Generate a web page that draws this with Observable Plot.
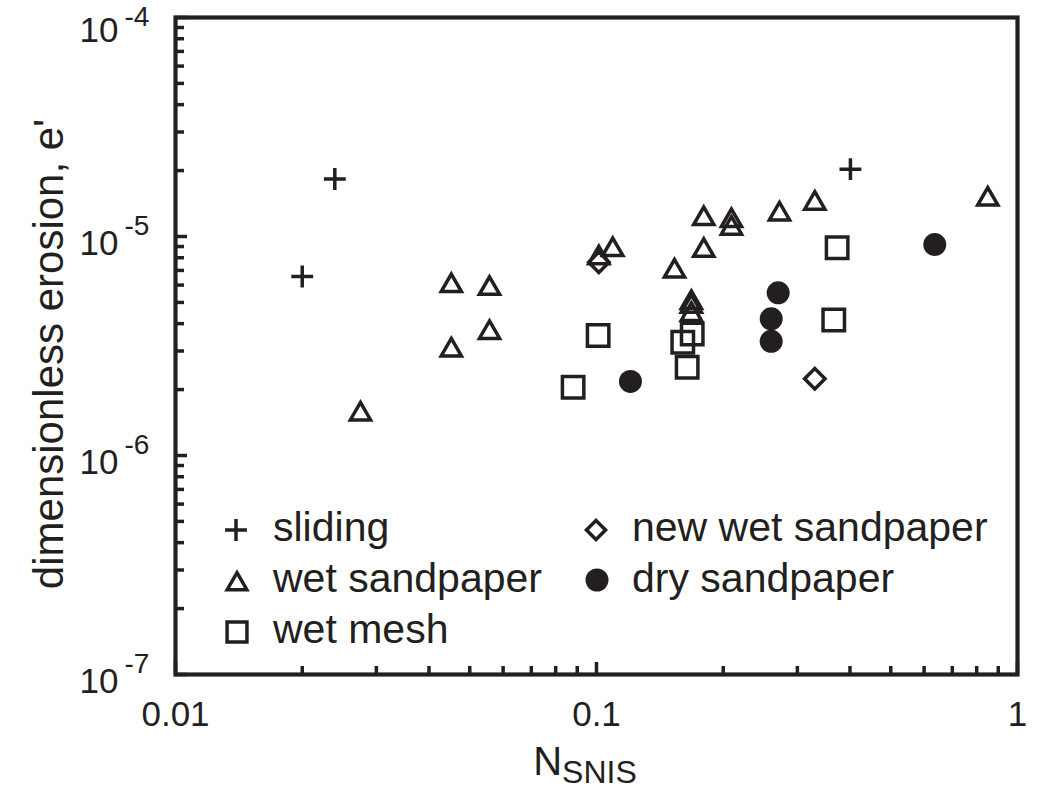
<!DOCTYPE html>
<html><head><meta charset="utf-8">
<script src="https://cdn.jsdelivr.net/npm/d3@7"></script>
<script src="https://cdn.jsdelivr.net/npm/@observablehq/plot@0.6"></script>
<style>
html,body{margin:0;padding:0;background:#fff;}
#chart svg{display:block;}
</style>
</head><body><div id="chart"></div>
<script>
// ---- data ----
const slidingX = [0.0200, 0.0239, 0.401];
const slidingY = [6.57e-6, 1.83e-5, 2.03e-5];

const wetSandX = [0.0275, 0.0452, 0.0557, 0.0452, 0.0557, 0.1013, 0.1093, 0.1798, 0.2092, 0.2092, 0.272, 0.330, 0.850, 0.1798, 0.1532, 0.168, 0.168, 0.168];
const wetSandY = [1.545e-6, 5.96e-6, 5.79e-6, 3.03e-6, 3.64e-6, 7.98e-6, 8.70e-6, 1.205e-5, 1.18e-5, 1.09e-5, 1.265e-5, 1.417e-5, 1.48e-5, 8.63e-6, 6.94e-6, 4.99e-6, 4.79e-6, 4.40e-6];

const wetMeshX = [0.0880, 0.1009, 0.1688, 0.1603, 0.1642, 0.3729, 0.3661];
const wetMeshY = [2.05e-6, 3.53e-6, 3.59e-6, 3.29e-6, 2.53e-6, 8.88e-6, 4.16e-6];

const newWetX = [0.1013, 0.330];
const newWetY = [7.63e-6, 2.24e-6];

const drySandX = [0.1204, 0.2701, 0.2600, 0.2600, 0.636];
const drySandY = [2.18e-6, 5.53e-6, 4.21e-6, 3.32e-6, 9.19e-6];

const xTicks = [0.01, 0.1, 1];
const xTickLabels = ["0.01", "0.1", "1"];
const yTicks = [1e-7, 1e-6, 1e-5, 1e-4];
const yTickExp = ["-7", "-6", "-5", "-4"];

const seriesNames = ["sliding", "wet sandpaper", "wet mesh", "new wet sandpaper", "dry sandpaper"];

// ---- build tables ----
const zipXY = (xs, ys) => xs.map((x, i) => ({x, y: ys[i]}));
const sliding = zipXY(slidingX, slidingY);
const wetSand = zipXY(wetSandX, wetSandY);
const wetMesh = zipXY(wetMeshX, wetMeshY);
const newWet = zipXY(newWetX, newWetY);
const drySand = zipXY(drySandX, drySandY);

const yMinor = [];
for (const e of [-7, -6, -5]) for (let m = 2; m <= 9; m++) yMinor.push(m * Math.pow(10, e));
const xMinor = [];
for (const e of [-2, -1]) for (let m = 2; m <= 9; m++) xMinor.push(m * Math.pow(10, e));

const yTop = yTicks.filter(d => d === 1e-4);
const yLow = yTicks.filter(d => d !== 1e-4);
const expOf = d => yTickExp[yTicks.indexOf(d)];

// ---- layout ----
const W = 1037, H = 795, mL = 175, mR = 20, mT = 17, mB = 121;
const fw = W - mL - mR, fh = H - mT - mB;
const ink = "#231f20";
const font = "'Liberation Sans', Arial, Helvetica, sans-serif";
const sw = 3.5;

const plot = Plot.plot({
  width: W, height: H,
  marginLeft: mL, marginRight: mR, marginTop: mT, marginBottom: mB,
  x: {type: "log", domain: [0.01, 1], axis: null},
  y: {type: "log", domain: [1e-7, 1e-4], axis: null},
  style: {fontFamily: font, background: "#fff", color: ink, overflow: "visible"},
  marks: [
    // inward ticks
    Plot.tickY(yMinor, {y: d => d, insetRight: fw - 9, stroke: ink, strokeWidth: 3.5}),
    Plot.tickY(yTicks, {y: d => d, insetRight: fw - 12, stroke: ink, strokeWidth: 3.5}),
    Plot.tickX(xMinor, {x: d => d, insetTop: fh - 8, stroke: ink, strokeWidth: 3.5}),
    Plot.tickX(xTicks, {x: d => d, insetTop: fh - 12, stroke: ink, strokeWidth: 3.5}),
    Plot.frame({stroke: ink, strokeWidth: 4.2}),
    // data
    Plot.dot(sliding, {x: "x", y: "y", symbol: "plus", r: 7.1, stroke: ink, strokeWidth: sw}),
    Plot.dot(wetSand, {x: "x", y: "y", symbol: "triangle", r: 7.5, fill: "none", stroke: ink, strokeWidth: sw}),
    Plot.dot(wetMesh, {x: "x", y: "y", symbol: "square", r: 12.1, fill: "none", stroke: ink, strokeWidth: sw}),
    Plot.dot(newWet, {x: "x", y: "y", symbol: "diamond2", r: 9.2, fill: "none", stroke: ink, strokeWidth: sw}),
    Plot.dot(drySand, {x: "x", y: "y", symbol: "circle", r: 11.5, fill: ink, stroke: "none"}),
    // tick labels
    Plot.text(xTicks, {x: d => d, text: (d, i) => xTickLabels[i], frameAnchor: "bottom", lineAnchor: "top", dy: 27, fontSize: 35, fill: ink}),
    Plot.text(yLow, {y: d => d, text: () => "10", frameAnchor: "left", textAnchor: "end", dx: -57, dy: 7, fontSize: 35, fill: ink}),
    Plot.text(yLow, {y: d => d, text: expOf, frameAnchor: "left", textAnchor: "start", dx: -51, dy: -10, fontSize: 28, fill: ink}),
    Plot.text(yTop, {y: d => d, text: () => "10", frameAnchor: "left", textAnchor: "end", dx: -57, dy: 13, fontSize: 35, fill: ink}),
    Plot.text(yTop, {y: d => d, text: expOf, frameAnchor: "left", textAnchor: "start", dx: -51, dy: 0, fontSize: 28, fill: ink})
  ]
});

document.getElementById("chart").appendChild(plot);
const svg = d3.select(plot);

// axis titles
svg.append("text")
  .attr("transform", "translate(63,354) rotate(-90)")
  .attr("text-anchor", "middle")
  .attr("font-family", font).attr("font-size", 42).attr("fill", ink)
  .text("dimensionless erosion, e'");

const xt = svg.append("text")
  .attr("x", 585).attr("y", 775)
  .attr("text-anchor", "middle")
  .attr("font-family", font).attr("font-size", 40).attr("fill", ink);
xt.append("tspan").text("N");
xt.append("tspan").attr("font-size", 32).attr("dy", 8).text("SNIS");

// legend
const legendItems = [
  {name: seriesNames[0], type: d3.symbolPlus, r: 7.1, filled: false, sx: 236, sy: 530, tx: 273, ty: 541},
  {name: seriesNames[1], type: d3.symbolTriangle, r: 7.3, filled: false, sx: 237, sy: 584, tx: 273, ty: 592},
  {name: seriesNames[2], type: d3.symbolSquare, r: 11.2, filled: false, sx: 237, sy: 632, tx: 273, ty: 643},
  {name: seriesNames[3], type: d3.symbolDiamond2, r: 8.6, filled: false, sx: 596, sy: 530, tx: 632, ty: 541},
  {name: seriesNames[4], type: d3.symbolCircle, r: 11.5, filled: true, sx: 597, sy: 580, tx: 632, ty: 592}
];
const lg = svg.append("g").attr("font-family", font).attr("font-size", 41).attr("fill", ink).attr("text-anchor", "start");
for (const it of legendItems) {
  lg.append("path")
    .attr("d", d3.symbol(it.type, Math.PI * it.r * it.r)())
    .attr("transform", `translate(${it.sx},${it.sy})`)
    .attr("fill", it.filled ? ink : "none")
    .attr("stroke", it.filled ? "none" : ink)
    .attr("stroke-width", sw);
  lg.append("text").attr("x", it.tx).attr("y", it.ty).attr("text-anchor", "start").text(it.name);
}
</script>
</body></html>
